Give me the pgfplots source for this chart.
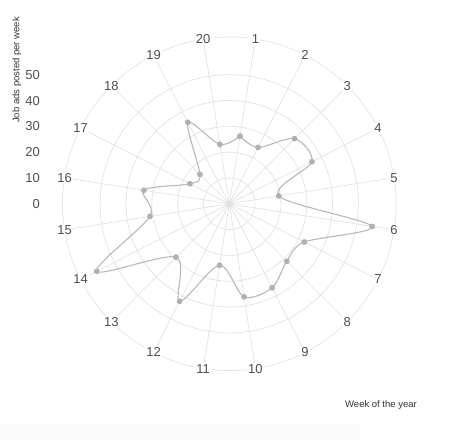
\documentclass[border=0pt]{standalone}
\usepackage{fontspec}
\setmainfont{Liberation Sans}
\usepackage{pgfplots}
\pgfplotsset{compat=1.18}
\usepgfplotslibrary{polar}
\definecolor{gridc}{HTML}{E2E2E2}
\definecolor{linec}{HTML}{B8B8B8}
\definecolor{markc}{HTML}{B0B0B0}
\definecolor{labc}{HTML}{4F4F4F}
\definecolor{titc}{HTML}{333333}
\begin{document}
\begin{tikzpicture}[x=1pt,y=1pt]
\path[use as bounding box] (0,0) rectangle (474,441);
\fill[gray!4] (0,1) rectangle (360,17);
% radial scale on the left
\foreach \v in {0,10,20,30,40,50}
  \node[anchor=east, font=\fontsize{13}{13}\selectfont, text=labc, inner sep=0pt]
    at (40, 237.2+\v*2.58) {\v};
\node[rotate=90, font=\fontsize{9.5}{9.5}\selectfont, text=titc] at (17,371) {Job ads posted per week};
\node[font=\fontsize{9.5}{9.5}\selectfont, text=titc] at (381,36) {Week of the year};
\begin{polaraxis}[
    at={(229.3pt,237.2pt)}, anchor=origin,
    scale only axis, width=333.6pt, height=333.6pt,
    xmin=0, xmax=360, ymin=0, ymax=64.6,
    xtick={9,27,45,63,81,99,117,135,153,171,189,207,225,243,261,279,297,315,333,351},
    xticklabels={5,4,3,2,1,20,19,18,17,16,15,14,13,12,11,10,9,8,7,6},
    ytick={10,20,30,40,50}, yticklabels={},
    xmajorgrids, ymajorgrids,
    grid style={gridc, line width=0.7pt},
    separate axis lines,
    x axis line style={gridc, line width=0.7pt},
    y axis line style={draw=none},
    major tick length=0pt,
    xticklabel style={anchor=center, fill=white, inner sep=1pt, text=labc,
        font=\fontsize{13}{13}\selectfont},
    clip=false,
]
\addplot[color=linec, line width=1.1pt, smooth, tension=0.5,
    mark=*, mark size=2.3pt, mark options={fill=markc, draw=markc}]
  coordinates {
    (81,26.5) (63,24.5) (45,35.7) (27,35.9) (9,19.4) (-9,56.0)
    (-27,32.6) (-45,31.5) (-63,36.5) (-81,36.5) (-99,24.1) (-117,42.4)
    (-135,29.2) (-153,57.6) (-171,31.1) (-189,33.5) (-207,17.1) (-225,16.1)
    (-243,35.4) (-261,23.3) (-279,26.5)
  };
\end{polaraxis}
\end{tikzpicture}
\end{document}
